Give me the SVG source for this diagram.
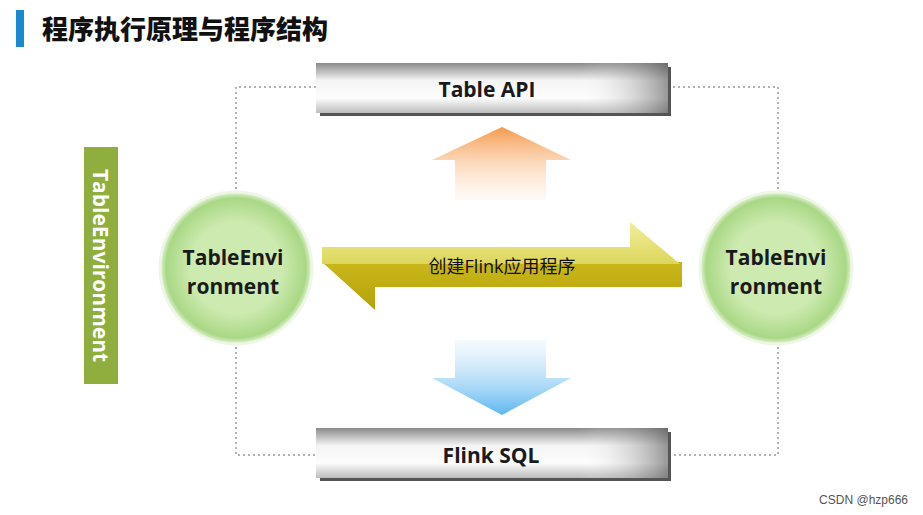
<svg xmlns="http://www.w3.org/2000/svg" width="923" height="515" viewBox="0 0 923 515">
<defs>
<linearGradient id="box" x1="0" y1="0" x2="0" y2="1"><stop offset="0" stop-color="#8a8a8a"/><stop offset="0.35" stop-color="#f4f4f4"/><stop offset="0.7" stop-color="#fdfdfd"/><stop offset="1" stop-color="#bcbcbc"/></linearGradient>
<linearGradient id="boxh" x1="0" y1="0" x2="1" y2="0"><stop offset="0.75" stop-color="#fff" stop-opacity="0"/><stop offset="1" stop-color="#555" stop-opacity="0.6"/></linearGradient>
<radialGradient id="circ" cx="0.5" cy="0.5" r="0.5"><stop offset="0.6" stop-color="#cdeab0"/><stop offset="0.92" stop-color="#a9d885"/><stop offset="1" stop-color="#e6f3da"/></radialGradient>
<linearGradient id="up" x1="0" y1="0" x2="0" y2="1"><stop offset="0" stop-color="#f59a4c"/><stop offset="1" stop-color="#fde7d2" stop-opacity="0.2"/></linearGradient>
<linearGradient id="down" x1="0" y1="0" x2="0" y2="1"><stop offset="0" stop-color="#d8ecfb" stop-opacity="0.3"/><stop offset="1" stop-color="#5db6f0"/></linearGradient>
<linearGradient id="upA" x1="0" y1="0" x2="0" y2="1"><stop offset="0" stop-color="#f1ee9c"/><stop offset="1" stop-color="#ddd65c"/></linearGradient>
<linearGradient id="loA" x1="0" y1="0" x2="0" y2="1"><stop offset="0" stop-color="#c9b71a"/><stop offset="1" stop-color="#b5a20c"/></linearGradient>
</defs>
<style>
.t{font-family:"Open Sans","Liberation Sans","Noto Sans CJK SC",sans-serif;font-weight:bold;fill:#1a1a1a}
.dot{fill:none;stroke:#999;stroke-width:1.5;stroke-dasharray:2 3}
</style>
<rect width="923" height="515" fill="#fff"/>
<rect x="16" y="10" width="8" height="37" fill="#1a8ad0"/>
<text x="42" y="39" font-size="26" font-family="Noto Sans CJK SC,sans-serif" font-weight="900" fill="#111">程序执行原理与程序结构</text>
<g id="connectors">
<polyline class="dot" points="316,87 236,87 236,192"/>
<polyline class="dot" points="668,87 778,87 778,192"/>
<polyline class="dot" points="236,342 236,455 316,455"/>
<polyline class="dot" points="778,342 778,455 668,455"/>
<polygon points="455,200 455,160 432,160 502,127 571,160 546,160 546,200" fill="url(#up)"/>
<polygon points="455,340 546,340 546,378 571,378 502,415 432,378 455,378" fill="url(#down)"/>
<polygon points="322,262 682,262 682,287 375,287 375,310" fill="url(#loA)"/>
<polygon points="322,247 630,247 630,222 680,264 322,264" fill="url(#upA)"/>
<text x="502" y="273" font-size="18" text-anchor="middle" font-family="Open Sans,Noto Sans CJK SC,sans-serif" fill="#111">创建Flink应用程序</text>
</g>
<g id="tableapi">
<rect x="320" y="67" width="351" height="49" fill="#555"/>
<rect x="316" y="63" width="352" height="50" fill="url(#box)"/>
<rect x="316" y="63" width="352" height="50" fill="url(#boxh)"/>
<text class="t" x="487" y="97" font-size="21" text-anchor="middle">Table API</text>
</g>
<g id="flinksql">
<rect x="320" y="432" width="351" height="49" fill="#555"/>
<rect x="316" y="428" width="352" height="50" fill="url(#box)"/>
<rect x="316" y="428" width="352" height="50" fill="url(#boxh)"/>
<text class="t" x="491" y="463" font-size="21" text-anchor="middle">Flink SQL</text>
</g>
<g id="env-left">
<circle cx="236" cy="268" r="76" fill="url(#circ)" stroke="#eef7e6" stroke-width="3"/>
<text class="t" x="233" y="265" font-size="21" text-anchor="middle">TableEnvi</text>
<text class="t" x="233" y="294" font-size="21" text-anchor="middle">ronment</text>
</g>
<g id="env-right">
<circle cx="776" cy="268" r="76" fill="url(#circ)" stroke="#eef7e6" stroke-width="3"/>
<text class="t" x="776" y="265" font-size="21" text-anchor="middle">TableEnvi</text>
<text class="t" x="776" y="294" font-size="21" text-anchor="middle">ronment</text>
</g>
<g id="label">
<rect x="84" y="147" width="34" height="237" fill="#8fae3e"/>
<text x="0" y="0" transform="translate(93,265.5) rotate(90)" font-size="21" text-anchor="middle" font-family="Open Sans,Liberation Sans,sans-serif" font-weight="bold" fill="#fff">TableEnvironment</text>
</g>
<text x="908" y="504" font-size="12" text-anchor="end" font-family="Liberation Sans,sans-serif" fill="#555">CSDN @hzp666</text>
</svg>
